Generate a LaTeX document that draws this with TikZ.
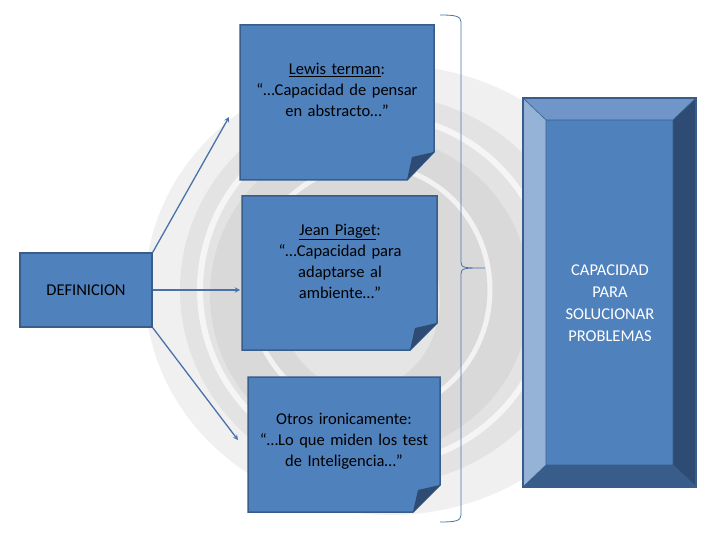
\documentclass[tikz,border=0pt]{standalone}
\usepackage{fontspec}
\setmainfont{Carlito}
\begin{document}
\begin{tikzpicture}[x=1pt,y=-1pt,
 bfill/.style={fill=blu,draw=bdark,line width=1.5pt},
 conn/.style={draw=bline,line width=1.3pt,-stealth},
 txt/.style={text=black,font=\fontsize{16.5}{21}\selectfont,align=center,text width=185pt}]
\definecolor{blu}{HTML}{4F81BD}
\definecolor{bdark}{HTML}{385D8A}
\definecolor{bline}{HTML}{4A72A8}
\definecolor{bshade}{HTML}{2E4B73}
\definecolor{blight}{HTML}{95B3D7}
\definecolor{bmid}{HTML}{6F95C9}
\useasboundingbox (0,0) rectangle (720,540);
\fill[white] (0,0) rectangle (720,540);
% grey scribble background approximation
\fill[gray!12] (390,290) ellipse (245 and 225);
\fill[gray!22] (380,290) ellipse (200 and 195);
\fill[gray!30] (370,295) ellipse (160 and 160);
\draw[gray!8,line width=6pt] (375,290) ellipse (175 and 175);
\draw[gray!10,line width=5pt] (370,290) ellipse (120 and 125);
\fill[gray!20] (360,300) ellipse (80 and 90);
% DEFINICION
\node[bfill,minimum width=132pt,minimum height=74pt,text=black,font=\fontsize{16.5}{20}\selectfont] (def) at (86,290) {DEFINICION};
% note boxes
\draw[bfill] (240,25) -- (434,25) -- (434,152) -- (407,180) -- (240,180) -- cycle;
\fill[bshade] (407,180) -- (412,157) -- (434,152) -- cycle;
\node[txt] (n1) at (337,90) {\underline{Lewis terman}:\\“…Capacidad de pensar\\en abstracto…”};
\draw[bfill] (242,196) -- (437,196) -- (437,323) -- (410,350) -- (242,350) -- cycle;
\fill[bshade] (410,350) -- (415,328) -- (437,323) -- cycle;
\node[txt,text width=150pt] (n2) at (340,261) {\underline{Jean Piaget}:\\“…Capacidad para\\adaptarse al\\ambiente…”};
\draw[bfill] (248,377) -- (440,377) -- (440,485) -- (413,512) -- (248,512) -- cycle;
\fill[bshade] (413,512) -- (418,490) -- (440,485) -- cycle;
\node[txt] (n3) at (344,441) {Otros ironicamente:\\“…Lo que miden los test\\de Inteligencia…”};
\coordinate (e1) at (229,117);
\coordinate (e2) at (240,290);
\coordinate (e3) at (238,440);
\draw[conn] (def.north east) -- (e1);
\draw[conn] (def.east) -- (e2);
\draw[conn] (def.south east) -- (e3);
% bracket
\coordinate (bt) at (440,15);
\coordinate (bb) at (440,522);
\coordinate (bp) at (485,268);
\draw[bline,line width=0.8pt] (bt) .. controls (455,15) and (461,16) .. (461,22) -- (461,262) .. controls (461,268) and (464,268) .. (bp)
 (bp) .. controls (464,268) and (461,268) .. (461,274) -- (461,515) .. controls (461,521) and (455,522) .. (bb);
% bevel box
\fill[blu] (546,120) rectangle (673,465);
\fill[bmid] (523,98) -- (696,98) -- (673,120) -- (546,120) -- cycle;
\fill[blight] (523,98) -- (546,120) -- (546,465) -- (523,487) -- cycle;
\fill[bshade] (696,98) -- (696,487) -- (673,465) -- (673,120) -- cycle;
\fill[bdark] (523,487) -- (546,465) -- (673,465) -- (696,487) -- cycle;
\draw[bdark,line width=1.5pt] (523,98) rectangle (696,487);
\draw[bdark,line width=0.6pt] (546,120) rectangle (673,465) (523,98)--(546,120) (696,98)--(673,120) (523,487)--(546,465) (696,487)--(673,465);
\node[text=white,font=\fontsize{16.5}{22}\selectfont,align=center] (cap) at (610,303) {CAPACIDAD\\PARA\\SOLUCIONAR\\PROBLEMAS};
\end{tikzpicture}
\end{document}
